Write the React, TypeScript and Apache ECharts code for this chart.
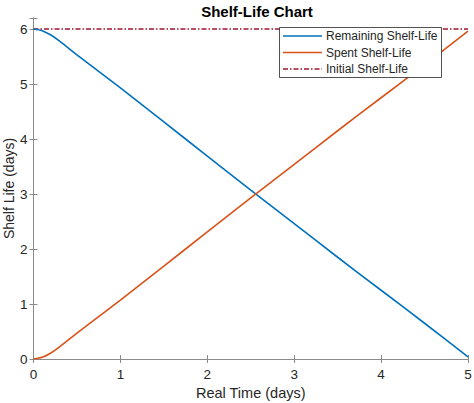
import React, { useEffect, useRef } from "react";
import * as echarts from "echarts";

// Real time (days) at which the shelf-life curves are sampled
const timeDays = [0, 0.1, 0.2, 0.3, 0.5, 0.75, 1.0, 1.25, 1.5, 2.0, 2.5, 3.0, 3.5, 4.0, 4.5, 5.0];
// Remaining shelf-life (days)
const remaining = [6.0, 5.97, 5.89, 5.78, 5.53, 5.23, 4.93, 4.62, 4.31, 3.69, 3.07, 2.46, 1.85, 1.25, 0.65, 0.04];
// Spent shelf-life (days)
const spent = [0.0, 0.03, 0.11, 0.22, 0.47, 0.77, 1.07, 1.38, 1.69, 2.31, 2.93, 3.54, 4.15, 4.75, 5.35, 5.96];
// Initial shelf-life (days), constant over the whole time range
const initialShelfLife = 6;
const timeRange = [0, 5];

const legendItems = [
  { name: "Remaining Shelf-Life", color: "#0072BD", dash: null as number[] | null },
  { name: "Spent Shelf-Life", color: "#D95319", dash: null as number[] | null },
  { name: "Initial Shelf-Life", color: "#A2142F", dash: [5, 2, 1.5, 2] },
];

const FONT = "'Liberation Sans', Arial, Helvetica, sans-serif";
const AXIS_COLOR = "#8a8a8a";
const TEXT_COLOR = "#262626";

export default function App() {
  const ref = useRef<HTMLDivElement>(null);

  useEffect(() => {
    if (!ref.current) return;
    const chart = echarts.init(ref.current, undefined, { renderer: "svg" });

    const pairs = (ys: number[]) => timeDays.map((t, i) => [t, ys[i]]);
    const intLabel = (v: number) => (Math.abs(v - Math.round(v)) < 1e-9 ? String(Math.round(v)) : "");

    const baseAxis = {
      axisLine: { show: true, lineStyle: { color: AXIS_COLOR, width: 1 } },
      axisTick: { show: true, inside: true, length: 4, lineStyle: { color: AXIS_COLOR, width: 1 } },
      splitLine: { show: false },
    };

    const legendGraphics: any[] = [
      {
        type: "rect",
        shape: { x: 279.5, y: 27.5, width: 162, height: 50 },
        style: { fill: "#ffffff", stroke: "#262626", lineWidth: 0.8 },
        z: 100,
      },
    ];
    legendItems.forEach((item, i) => {
      const y = 36 + i * 16.5;
      legendGraphics.push({
        type: "line",
        shape: { x1: 283, y1: y, x2: 322, y2: y },
        style: { stroke: item.color, lineWidth: 1.6, lineDash: item.dash || undefined },
        z: 101,
      });
      legendGraphics.push({
        type: "text",
        x: 326,
        y: y,
        style: {
          text: item.name,
          fontFamily: FONT,
          fontSize: 12,
          fill: TEXT_COLOR,
          verticalAlign: "middle",
          align: "left",
        },
        z: 101,
      });
    });

    chart.setOption({
      animation: false,
      backgroundColor: "#ffffff",
      title: {
        text: "Shelf-Life Chart",
        left: 252,
        textAlign: "center",
        top: -1,
        textStyle: { fontFamily: FONT, fontSize: 15, fontWeight: "bold", color: "#000000" },
      },
      grid: { left: 33.5, right: 6, top: 18, bottom: 44, containLabel: false, outerBoundsMode: "none" },
      xAxis: [
        {
          ...baseAxis,
          type: "value",
          min: timeRange[0],
          max: timeRange[1],
          interval: 1,
          position: "bottom",
          name: "Real Time (days)",
          nameLocation: "middle",
          nameGap: 26,
          nameMoveOverlap: false,
          nameTextStyle: { fontFamily: FONT, fontSize: 14.5, color: TEXT_COLOR },
          axisLabel: { fontFamily: FONT, fontSize: 13.5, color: TEXT_COLOR, margin: 8 },
        },
        {
          ...baseAxis,
          type: "value",
          min: timeRange[0],
          max: timeRange[1],
          interval: 1,
          position: "top",
          axisLabel: { show: false },
        },
      ],
      yAxis: [
        {
          ...baseAxis,
          type: "value",
          min: 0,
          max: 6.2,
          interval: 1,
          position: "left",
          name: "Shelf Life (days)",
          nameLocation: "middle",
          nameGap: 17.5,
          nameMoveOverlap: false,
          nameRotate: 90,
          nameTextStyle: { fontFamily: FONT, fontSize: 14, color: TEXT_COLOR },
          axisLabel: { fontFamily: FONT, fontSize: 13.5, color: TEXT_COLOR, margin: 6, formatter: intLabel },
        },
        {
          ...baseAxis,
          type: "value",
          min: 0,
          max: 6.2,
          interval: 1,
          position: "right",
          axisLabel: { show: false },
        },
      ],
      series: [
        {
          name: "Remaining Shelf-Life",
          type: "line",
          data: pairs(remaining),
          smooth: 0.25,
          symbol: "none",
          lineStyle: { color: "#0072BD", width: 1.6 },
          z: 3,
        },
        {
          name: "Spent Shelf-Life",
          type: "line",
          data: pairs(spent),
          smooth: 0.25,
          symbol: "none",
          lineStyle: { color: "#D95319", width: 1.6 },
          z: 3,
        },
        {
          name: "Initial Shelf-Life",
          type: "line",
          data: timeRange.map((t) => [t, initialShelfLife]),
          symbol: "none",
          lineStyle: { color: "#A2142F", width: 1.4, type: [5, 2, 1.5, 2] },
          z: 2,
        },
      ],
      graphic: legendGraphics,
    });

    return () => chart.dispose();
  }, []);

  return (
    <div
      ref={ref}
      style={{ position: "fixed", left: 0, top: 0, width: 474, height: 403, background: "#ffffff" }}
    />
  );
}
